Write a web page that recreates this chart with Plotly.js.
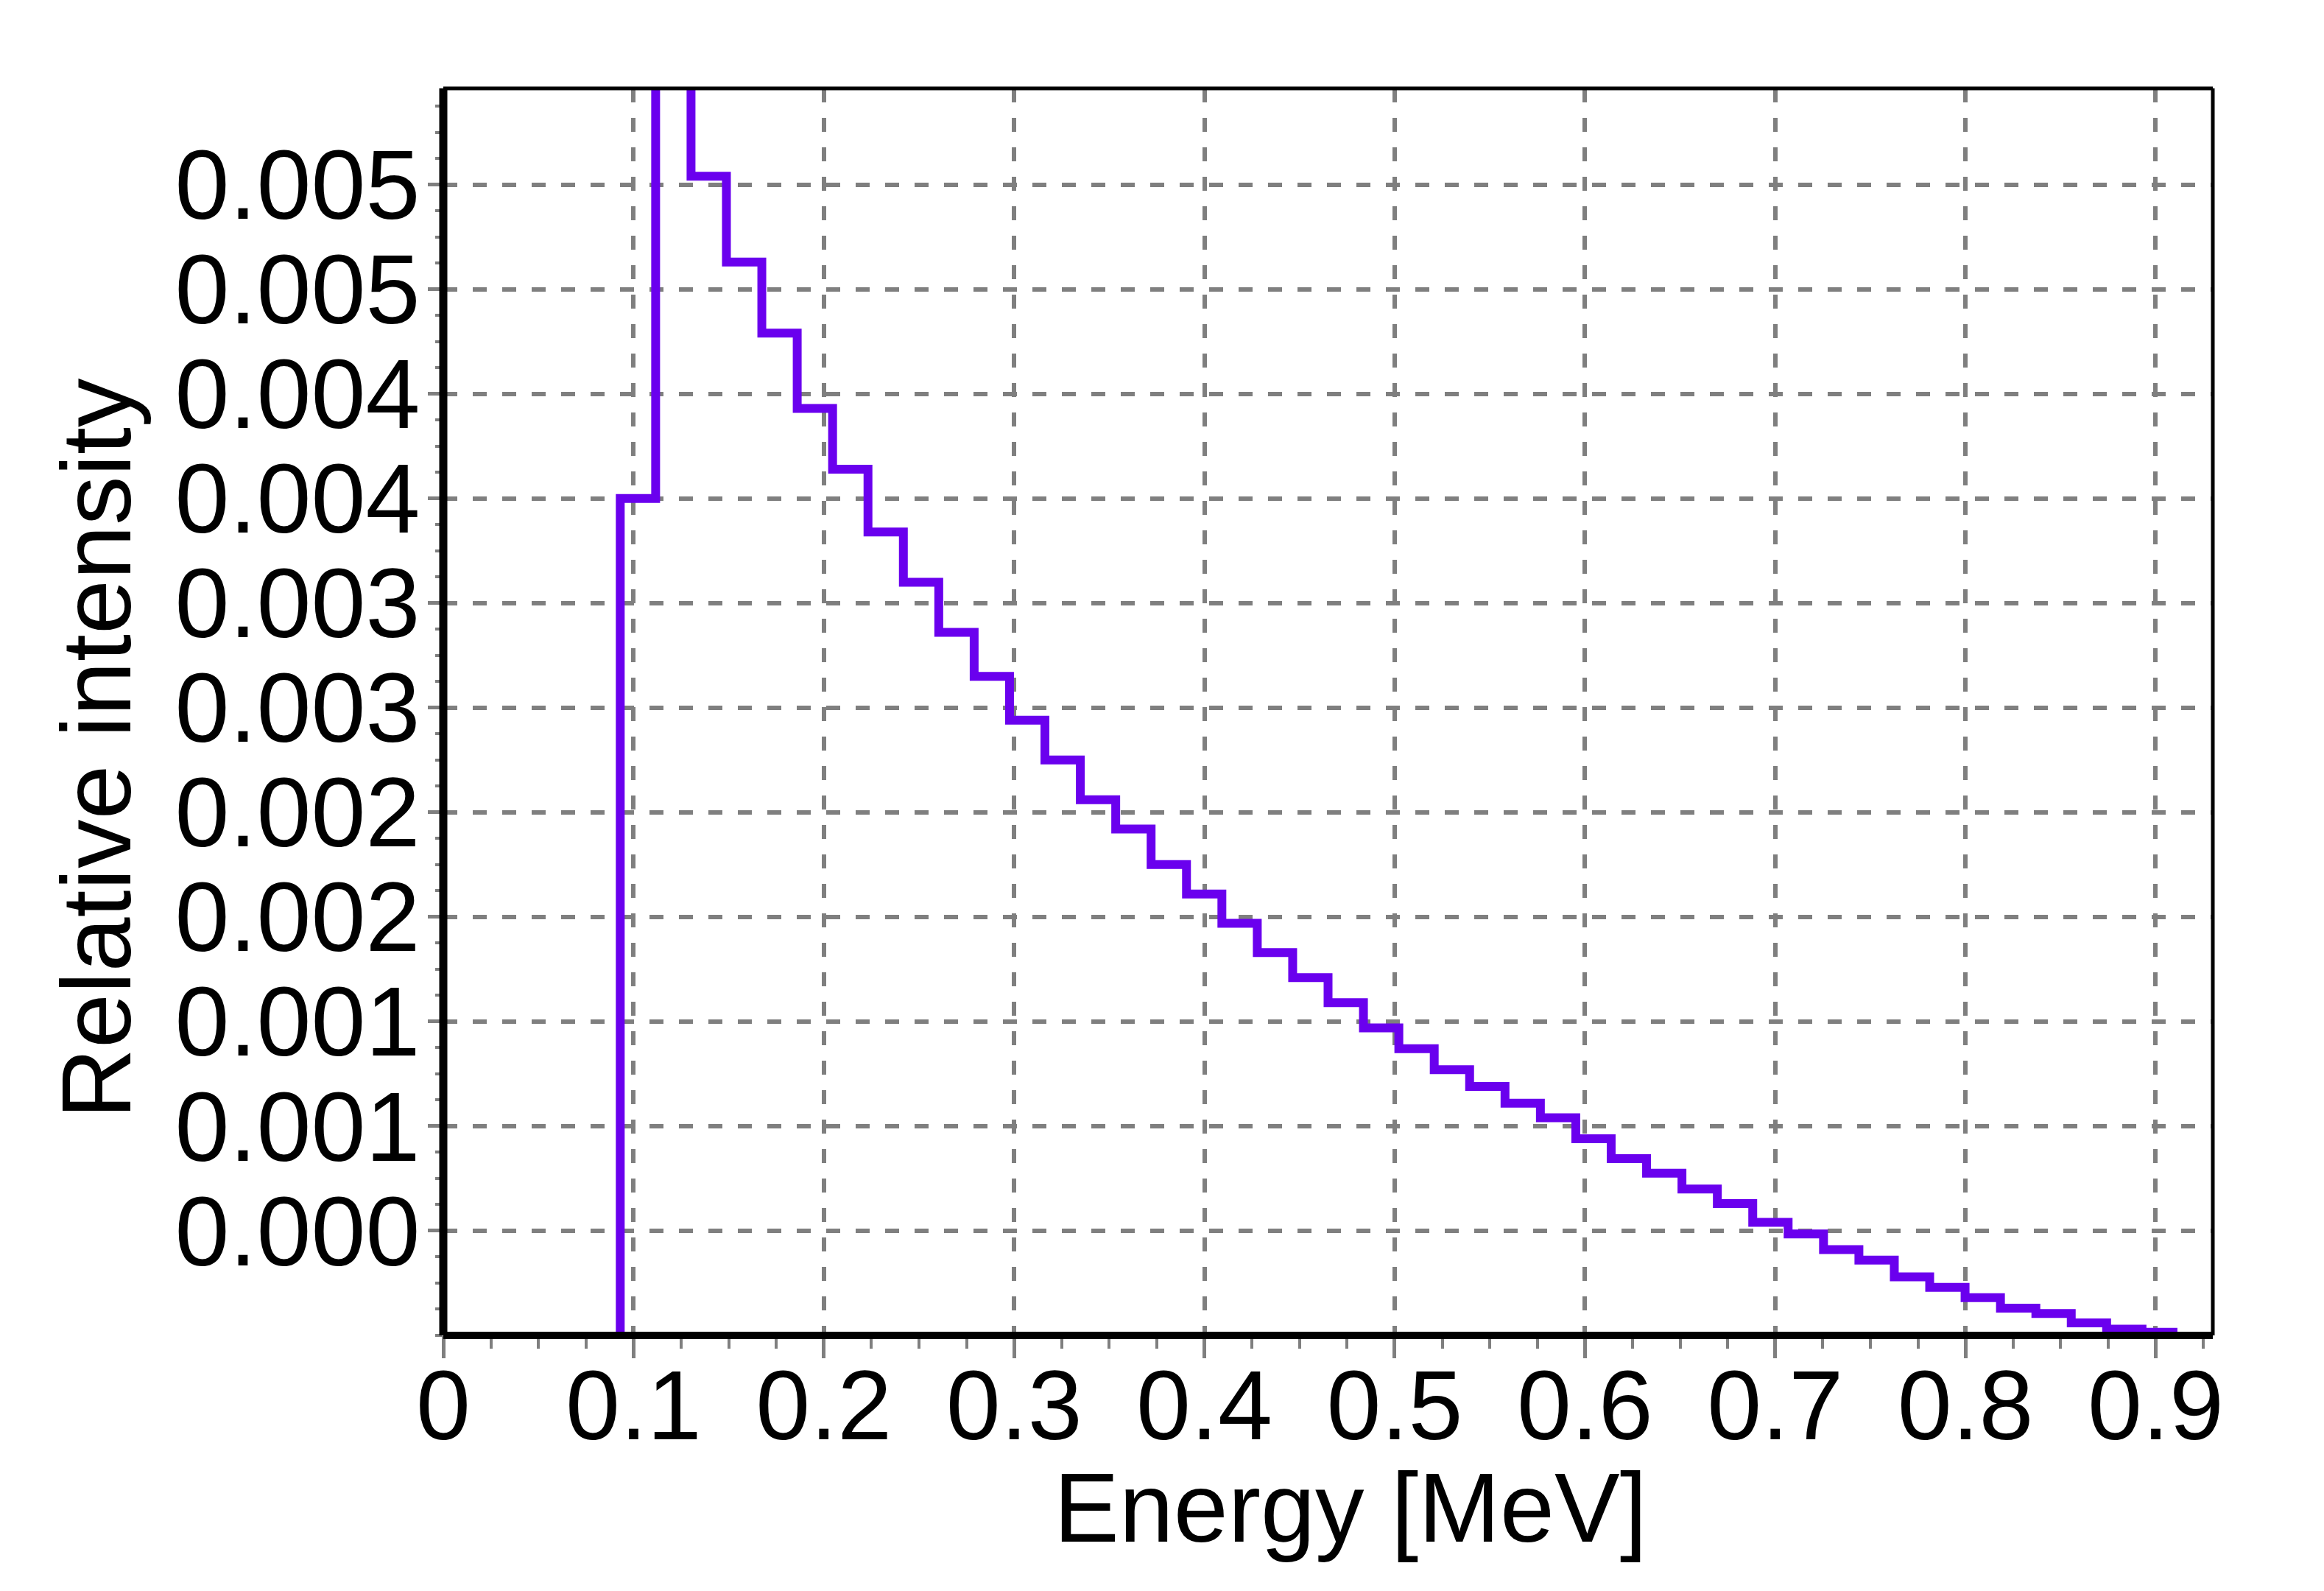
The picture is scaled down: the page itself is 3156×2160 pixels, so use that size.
<!DOCTYPE html>
<html>
<head>
<meta charset="utf-8">
<script src="https://cdn.plot.ly/plotly-3.0.1.min.js"></script>
<style>html,body{margin:0;padding:0;background:#fff;}#chart{width:3156px;height:2160px;}</style>
</head>
<body>
<div id="chart"></div>
<script>
// Bin edges (MeV) of the histogram, from the rising edge to the last bin end
var binEdges = [0.093, 0.1116, 0.1302, 0.1488, 0.1674, 0.186, 0.2046, 0.2232, 0.2418, 0.2604,
  0.279, 0.2976, 0.3162, 0.3348, 0.3534, 0.372, 0.3906, 0.4092, 0.4278, 0.4464,
  0.465, 0.4836, 0.5022, 0.5208, 0.5394, 0.558, 0.5766, 0.5952, 0.6138, 0.6324,
  0.651, 0.6696, 0.6882, 0.7068, 0.7254, 0.744, 0.7626, 0.7812, 0.7998, 0.8184,
  0.837, 0.8556, 0.8742, 0.8928, 0.9114];
// Relative intensity of each bin (one value per bin, bins start at binEdges[i])
var binValues = [0.0040, 0.0068, 0.00554, 0.00513, 0.00479, 0.00443, 0.00414, 0.00384, 0.00360, 0.00336,
  0.00315, 0.00294, 0.00275, 0.00256, 0.00242, 0.00225, 0.00211, 0.00197, 0.00183, 0.00171,
  0.00159, 0.00147, 0.00137, 0.00127, 0.00119, 0.00111, 0.00104, 0.00094, 0.000845, 0.000775,
  0.00070, 0.00063, 0.00054, 0.000485, 0.00041, 0.00036, 0.00028, 0.00023, 0.00018, 0.00013,
  0.000105, 0.00006, 0.00003, 0.000015];
var yTickVals = [0.0005, 0.001, 0.0015, 0.002, 0.0025, 0.003, 0.0035, 0.004, 0.0045, 0.005, 0.0055];
var yTickText = ['0.000', '0.001', '0.001', '0.002', '0.002', '0.003', '0.003', '0.004', '0.004', '0.005', '0.005'];
var xTitle = 'Energy [MeV]';
var yTitle = 'Relative intensity';

// Build step outline: start at zero on the first edge, then hv steps
var sx = [binEdges[0]];
var sy = [0];
for (var i = 0; i < binValues.length; i++) { sx.push(binEdges[i]); sy.push(binValues[i]); }
sx.push(binEdges[binEdges.length - 1]); sy.push(binValues[binValues.length - 1]);

var FONT = 'Liberation Sans, Arial, Helvetica, sans-serif';
var GRID = '#7f7f7f';

var trace = {
  type: 'scatter', mode: 'lines', x: sx, y: sy,
  line: {shape: 'hv', color: '#6a00ee', width: 12},
  hoverinfo: 'skip', showlegend: false
};

var layout = {
  width: 3156, height: 2160,
  paper_bgcolor: '#ffffff', plot_bgcolor: '#ffffff',
  margin: {l: 602, r: 151, t: 120, b: 347, pad: 0},
  font: {family: FONT, size: 133, color: '#000'},
  showlegend: false,
  xaxis: {
    range: [0, 0.93], tick0: 0, dtick: 0.1, tickmode: 'linear',
    showgrid: true, gridcolor: GRID, gridwidth: 6, griddash: '19px,21px',
    zeroline: false, showline: false,
    ticks: 'outside', ticklen: 30, tickwidth: 5, tickcolor: GRID,
    ticklabelstandoff: -50,
    tickfont: {family: FONT, size: 133, color: '#000'},
    minor: {dtick: 0.025, tick0: 0, ticks: 'outside', ticklen: 17, tickwidth: 4, tickcolor: GRID, showgrid: false},
    fixedrange: true
  },
  yaxis: {
    range: [0, 0.00596], tickmode: 'array', tickvals: yTickVals, ticktext: yTickText,
    showgrid: true, gridcolor: GRID, gridwidth: 6, griddash: '19px,21px',
    zeroline: false, showline: false,
    ticks: 'outside', ticklen: 20, tickwidth: 5, tickcolor: GRID,
    ticklabelstandoff: -16,
    tickfont: {family: FONT, size: 133, color: '#000'},
    minor: {dtick: 0.000125, tick0: 0, ticks: 'outside', ticklen: 10, tickwidth: 4, tickcolor: GRID, showgrid: false},
    fixedrange: true
  },
  shapes: [
    {type: 'line', xref: 'paper', yref: 'paper', x0: 0, x1: 1, y0: 1, y1: 1, line: {color: '#000', width: 5}, layer: 'above'},
    {type: 'line', xref: 'paper', yref: 'paper', x0: 1, x1: 1, y0: 0, y1: 1, line: {color: '#000', width: 5}, layer: 'above'},
    {type: 'line', xref: 'paper', yref: 'paper', x0: 0, x1: 0, y0: 0, y1: 1, line: {color: '#000', width: 11}, layer: 'above'},
    {type: 'line', xref: 'paper', yref: 'paper', x0: 0, x1: 1, y0: 0, y1: 0, line: {color: '#000', width: 10}, layer: 'above'}
  ],
  annotations: [
    {text: xTitle, xref: 'paper', yref: 'paper', x: 0.5127, y: -0.138, xanchor: 'center', yanchor: 'middle',
     showarrow: false, font: {family: FONT, size: 133, color: '#000'}},
    {text: yTitle, xref: 'paper', yref: 'paper', x: -0.196, y: 0.4708, xanchor: 'center', yanchor: 'middle',
     textangle: -90, showarrow: false, font: {family: FONT, size: 133, color: '#000'}}
  ]
};

Plotly.newPlot('chart', [trace], layout, {displayModeBar: false, staticPlot: true});
</script>
</body>
</html>
